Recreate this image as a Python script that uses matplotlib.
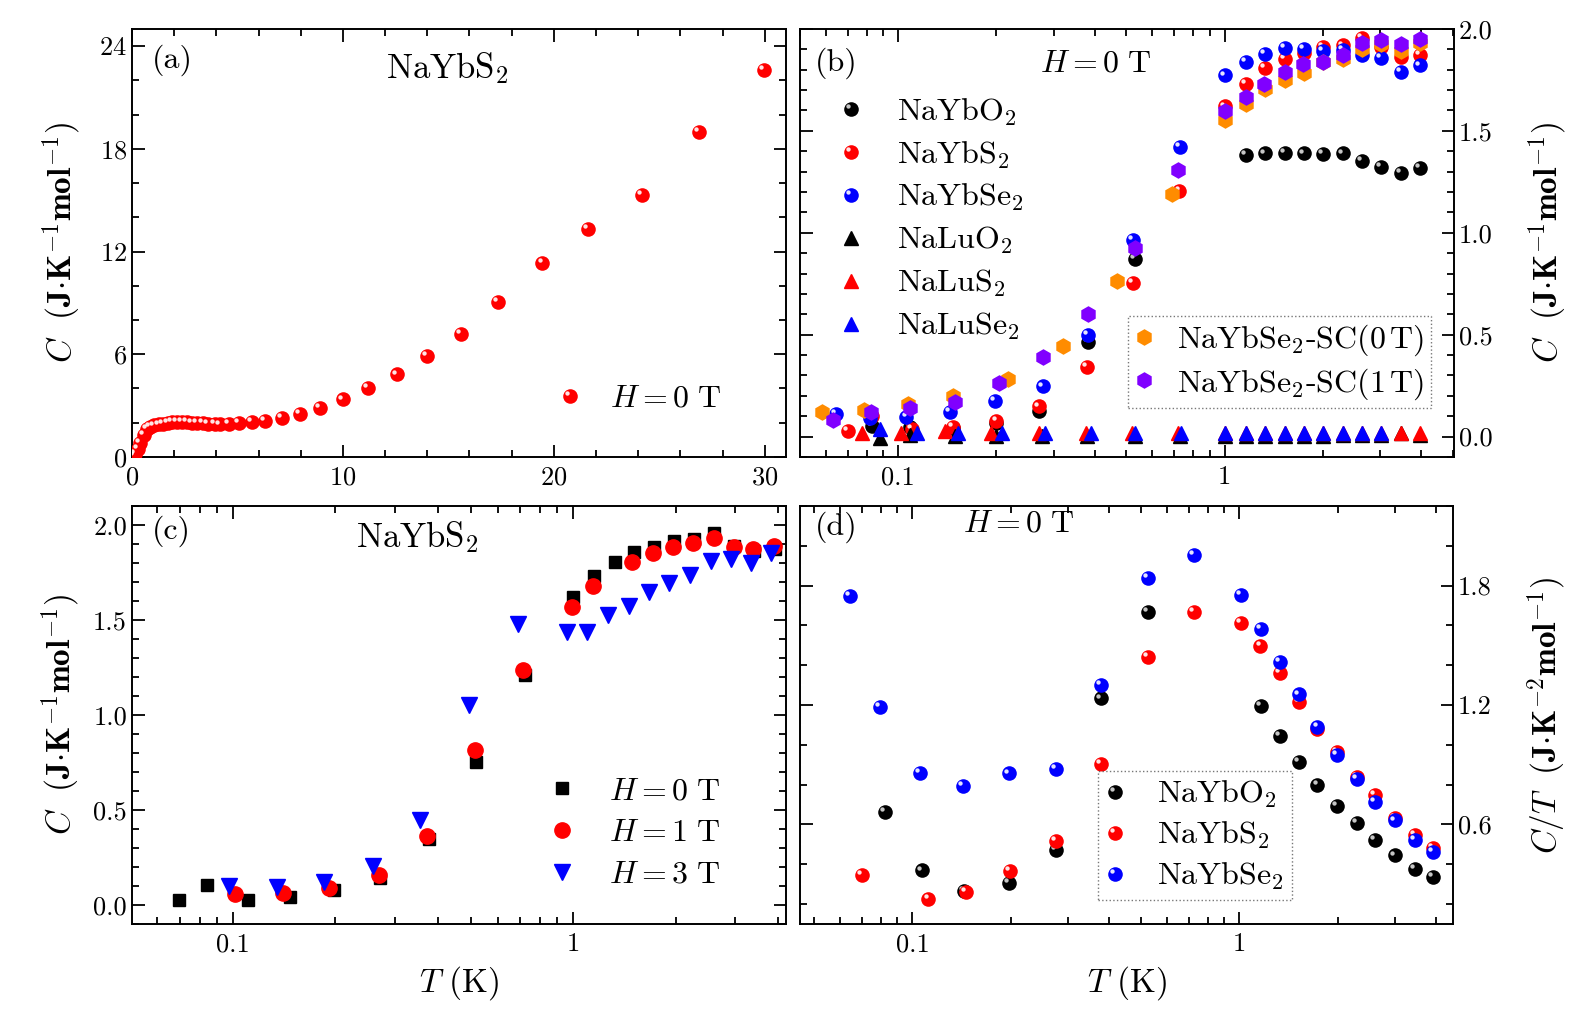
import numpy as np
import matplotlib
matplotlib.use('Agg')
import matplotlib.pyplot as plt
from matplotlib import ticker, transforms
from matplotlib.lines import Line2D
from matplotlib.legend_handler import HandlerBase

plt.rcParams['font.family'] = 'cmr10'
plt.rcParams['mathtext.fontset'] = 'cm'
plt.rcParams['axes.unicode_minus'] = False
plt.rcParams['axes.formatter.use_mathtext'] = True

# ---------------- data ----------------
# (a) NaYbS2, H = 0 T, linear T
Ta = [0.08, 0.16, 0.28, 0.39, 0.55, 0.71, 0.87, 1.06, 1.26, 1.47, 1.69, 1.90, 2.13, 2.37,
      2.61, 2.84, 3.10, 3.35, 3.60, 3.95, 4.19, 4.58, 5.09, 5.69, 6.30, 7.12, 7.95, 8.90,
      10.0, 11.2, 12.56, 13.98, 15.6, 17.36, 19.46, 21.6, 24.16, 26.9, 29.97]
Ca = [0.05, 0.19, 0.49, 0.83, 1.30, 1.61, 1.75, 1.84, 1.90, 1.94, 1.98, 2.02, 2.04, 2.04,
      2.02, 1.98, 1.96, 1.96, 1.94, 1.94, 1.90, 1.94, 1.98, 2.04, 2.12, 2.27, 2.50, 2.85,
      3.36, 4.02, 4.82, 5.92, 7.20, 9.03, 11.34, 13.34, 15.30, 18.97, 22.58]

# (b) H = 0 T, all compounds
Tb_O2 = [0.083, 0.109, 0.147, 0.20, 0.27, 0.382, 0.53, 1.165, 1.328, 1.531, 1.752, 1.998,
         2.30, 2.634, 3.013, 3.459, 3.96]
Cb_O2 = [0.05, 0.045, 0.04, 0.065, 0.127, 0.464, 0.871, 1.384, 1.389, 1.393, 1.389, 1.386,
         1.389, 1.352, 1.324, 1.292, 1.316]
Tb_S2 = [0.0702, 0.083, 0.110, 0.147, 0.20, 0.27, 0.378, 0.524, 0.727, 1.0, 1.16, 1.33,
         1.53, 1.75, 2.0, 2.30, 2.63, 3.01, 3.46, 3.96]
Cb_S2 = [0.026, 0.10, 0.037, 0.046, 0.078, 0.148, 0.342, 0.754, 1.207, 1.62, 1.731, 1.808,
         1.853, 1.881, 1.910, 1.919, 1.956, 1.910, 1.862, 1.873]
Tb_Se2 = [0.0646, 0.082, 0.106, 0.144, 0.198, 0.277, 0.381, 0.524, 0.73, 1.0, 1.16, 1.33,
          1.53, 1.75, 2.0, 2.30, 2.63, 3.01, 3.46, 3.96]
Cb_Se2 = [0.111, 0.09, 0.098, 0.119, 0.173, 0.246, 0.498, 0.966, 1.419, 1.772, 1.837, 1.878,
          1.906, 1.902, 1.894, 1.897, 1.873, 1.857, 1.79, 1.821]
Tb_Lu_O2 = [0.088, 0.109, 0.149, 0.20, 0.276, 0.38, 0.53, 0.73, 1.0, 1.16, 1.33, 1.53, 1.75,
            2.0, 2.3, 2.63, 3.01, 3.46, 3.96]
Cb_Lu_O2 = [-0.005, 0.01, 0.005, 0.005, 0.005, 0.005, 0.005, 0.005, 0.005, 0.005, 0.005,
            0.005, 0.005, 0.005, 0.01, 0.01, 0.01, 0.016, 0.01]
Tb_Lu_S2 = [0.0772, 0.102, 0.139, 0.192, 0.27, 0.376, 0.52, 0.72, 1.0, 1.16, 1.33, 1.53,
            1.75, 2.0, 2.3, 2.63, 3.01, 3.46, 3.96]
Cb_Lu_S2 = [0.02, 0.02, 0.026, 0.02, 0.02, 0.02, 0.02, 0.02, 0.02, 0.02, 0.02, 0.02, 0.02,
            0.02, 0.02, 0.02, 0.02, 0.02, 0.02]
Tb_Lu_Se2 = [0.088, 0.114, 0.152, 0.208, 0.282, 0.39, 0.533, 0.733, 1.0, 1.16, 1.33, 1.53,
             1.75, 2.0, 2.3, 2.63, 3.01]
Cb_Lu_Se2 = [0.037, 0.016, 0.018, 0.016, 0.016, 0.016, 0.016, 0.016, 0.016, 0.016, 0.016,
             0.016, 0.016, 0.016, 0.016, 0.016, 0.016]
Tb_SC0 = [0.0585, 0.0786, 0.107, 0.147, 0.2175, 0.32, 0.468, 0.689, 1.0, 1.16, 1.33, 1.53,
          1.75, 2.0, 2.30, 2.63, 3.01, 3.46, 3.96]
Cb_SC0 = [0.119, 0.130, 0.160, 0.200, 0.282, 0.445, 0.765, 1.189, 1.555, 1.634, 1.707, 1.751,
          1.783, 1.837, 1.853, 1.902, 1.927, 1.894, 1.932]
Tb_SC1 = [0.063, 0.0823, 0.109, 0.149, 0.203, 0.277, 0.382, 0.53, 0.72, 1.0, 1.16, 1.32,
          1.53, 1.74, 2.0, 2.3, 2.63, 3.01, 3.46, 3.96]
Cb_SC1 = [0.083, 0.119, 0.138, 0.168, 0.261, 0.391, 0.603, 0.925, 1.308, 1.596, 1.666, 1.731,
          1.788, 1.829, 1.837, 1.870, 1.930, 1.948, 1.927, 1.951]

# (c) NaYbS2 in fields
Tc_0 = [0.0698, 0.0838, 0.111, 0.147, 0.1985, 0.271, 0.377, 0.52, 0.722, 1.0, 1.149, 1.324,
        1.51, 1.734, 1.985, 2.273, 2.6, 2.977, 3.406, 3.913]
Cc_0 = [0.0245, 0.103, 0.0245, 0.042, 0.077, 0.142, 0.345, 0.755, 1.21, 1.623, 1.729, 1.807,
        1.86, 1.886, 1.916, 1.925, 1.96, 1.89, 1.863, 1.872]
Tc_1 = [0.1014, 0.1404, 0.1923, 0.2684, 0.3715, 0.5145, 0.712, 0.993, 1.144, 1.494, 1.717,
        1.971, 2.256, 2.592, 2.966, 3.382, 3.886]
Cc_1 = [0.0595, 0.063, 0.089, 0.156, 0.361, 0.818, 1.236, 1.566, 1.680, 1.807, 1.855,
        1.886, 1.907, 1.93, 1.886, 1.872, 1.89]
Tc_3 = [0.0976, 0.1346, 0.1858, 0.2592, 0.3563, 0.4934, 0.6877, 0.9627, 1.102, 1.27, 1.458,
        1.675, 1.918, 2.203, 2.538, 2.915, 3.325, 3.819]
Cc_3 = [0.10, 0.093, 0.121, 0.205, 0.445, 1.053, 1.478, 1.438, 1.438, 1.525, 1.575, 1.648,
        1.694, 1.737, 1.811, 1.823, 1.802, 1.855]

# (d) C/T at H = 0 T
Td_O2 = [0.0823, 0.107, 0.1436, 0.1976, 0.274, 0.378, 0.524, 1.165, 1.328, 1.52, 1.733,
         1.99, 2.286, 2.606, 3.0, 3.438, 3.92]
CTd_O2 = [0.662, 0.369, 0.265, 0.307, 0.471, 1.233, 1.666, 1.194, 1.0435, 0.915, 0.7975,
          0.695, 0.608, 0.52, 0.444, 0.377, 0.337]
Td_S2 = [0.0702, 0.112, 0.1462, 0.199, 0.274, 0.377, 0.524, 0.727, 1.01, 1.16, 1.328, 1.52,
         1.733, 1.99, 2.286, 2.606, 2.983, 3.438, 3.92]
CTd_S2 = [0.344, 0.227, 0.260, 0.366, 0.516, 0.906, 1.442, 1.668, 1.6126, 1.495, 1.361,
          1.216, 1.082, 0.965, 0.839, 0.746, 0.633, 0.546, 0.483]
Td_Se2 = [0.0646, 0.0794, 0.1054, 0.143, 0.197, 0.274, 0.377, 0.524, 0.727, 1.01, 1.165,
          1.328, 1.52, 1.733, 1.99, 2.286, 2.606, 2.983, 3.438, 3.92]
CTd_Se2 = [1.7465, 1.1908, 0.859, 0.7925, 0.856, 0.8795, 1.303, 1.838, 1.952, 1.755, 1.584,
           1.415, 1.253, 1.09, 0.948, 0.829, 0.714, 0.62, 0.521, 0.463]

BLACK, RED, BLUE = '#000000', '#ff0000', '#0000ff'
ORANGE, PURPLE = '#ff8c00', '#8000ff'

FS_TICK = 19
FS_TXT = 23
FS_LAB = 24
MS_BALL = 10.5

fig = plt.figure(figsize=(15.8, 10.13), dpi=100)
axa = fig.add_axes([0.0835, 0.5489, 0.4139, 0.4225])
axb = fig.add_axes([0.5063, 0.5489, 0.4139, 0.4225])
axc = fig.add_axes([0.0835, 0.0879, 0.4139, 0.4126])
axd = fig.add_axes([0.5063, 0.0879, 0.4133, 0.4126])


def balls(ax, x, y, color, z, ms=MS_BALL, hl='white'):
    ax.plot(x, y, ls='none', marker='o', ms=ms, mfc=color, mec='none', zorder=z)
    d = ms * 0.2
    tr = transforms.offset_copy(ax.transData, fig=fig, x=-d, y=d, units='points')
    ax.plot(x, y, ls='none', marker='o', ms=ms * 0.3, mfc=hl, mec='none', alpha=0.9,
            transform=tr, zorder=z + 0.5)


class Ball:
    def __init__(self, color, hl='white', ms=MS_BALL):
        self.color, self.hl, self.ms = color, hl, ms


class BallHandler(HandlerBase):
    def create_artists(self, legend, h, xdescent, ydescent, width, height, fontsize, trans):
        cx = 0.5 * width - xdescent
        cy = 0.5 * height - ydescent
        d = h.ms * 0.2
        a = Line2D([cx], [cy], ls='none', marker='o', ms=h.ms, mfc=h.color, mec='none',
                   transform=trans)
        b = Line2D([cx - d], [cy + d], ls='none', marker='o', ms=h.ms * 0.3, mfc=h.hl,
                   mec='none', alpha=0.9, transform=trans)
        return [a, b]


HMAP = {Ball: BallHandler()}


def style(ax, log=False):
    for s in ax.spines.values():
        s.set_linewidth(1.4)
    ax.tick_params(which='both', direction='in', top=True, right=True, left=True, bottom=True,
                   labelsize=FS_TICK, width=1.3)
    ax.tick_params(which='major', length=9)
    ax.tick_params(which='minor', length=5)
    ax.tick_params(axis='x', pad=6)
    if log:
        ax.set_xscale('log')
        ax.xaxis.set_major_locator(ticker.FixedLocator([0.1, 1]))
        ax.xaxis.set_major_formatter(ticker.FuncFormatter(lambda v, p: f'{v:g}'))
        ax.xaxis.set_minor_locator(ticker.LogLocator(base=10, subs=np.arange(2, 10), numticks=20))
        ax.xaxis.set_minor_formatter(ticker.NullFormatter())


ylab_C = r'$C\ \ (\mathbf{J{\cdot}K}^{-1}\mathbf{mol}^{-1})$'
xlab_T = r'$T\ (\mathrm{K})$'

# ---------- (a) ----------
style(axa)
balls(axa, Ta, Ca, RED, 3)
axa.set_xlim(0, 31)
axa.set_ylim(0, 25)
axa.xaxis.set_major_locator(ticker.MultipleLocator(10))
axa.xaxis.set_minor_locator(ticker.MultipleLocator(2))
axa.yaxis.set_major_locator(ticker.MultipleLocator(6))
axa.yaxis.set_minor_locator(ticker.MultipleLocator(2))
axa.set_ylabel(ylab_C, fontsize=FS_LAB, labelpad=12)
axa.text(0.03, 0.926, '(a)', transform=axa.transAxes, fontsize=FS_TXT, va='center')
axa.text(0.482, 0.908, r'$\mathrm{NaYbS}_2$', transform=axa.transAxes, fontsize=FS_TXT + 2,
         ha='center', va='center')
axa.legend([Ball(RED)], [r'$H = 0\ \mathrm{T}$'], handler_map=HMAP,
           loc='center left', bbox_to_anchor=(0.645, 0.136), frameon=False, fontsize=FS_TXT,
           handlelength=1.0, handletextpad=0.76, borderpad=0, borderaxespad=0)

# ---------- (b) ----------
style(axb, log=True)
balls(axb, Tb_O2, Cb_O2, BLACK, 3, hl='#dddddd')
balls(axb, Tb_S2, Cb_S2, RED, 4)
balls(axb, Tb_Se2, Cb_Se2, BLUE, 5)
axb.plot(Tb_Lu_O2, Cb_Lu_O2, ls='none', marker='^', ms=10, color=BLACK, zorder=6)
axb.plot(Tb_Lu_S2, Cb_Lu_S2, ls='none', marker='^', ms=10, color=RED, zorder=6.2)
axb.plot(Tb_Lu_Se2, Cb_Lu_Se2, ls='none', marker='^', ms=10, color=BLUE, zorder=6.4)
axb.plot(Tb_SC0, Cb_SC0, ls='none', marker='h', ms=12, color=ORANGE, mec='none', zorder=7)
axb.plot(Tb_SC1, Cb_SC1, ls='none', marker='h', ms=12, color=PURPLE, mec='none', zorder=8)
axb.set_xlim(0.05, 5.04)
axb.set_ylim(-0.1, 2.0)
axb.yaxis.set_major_locator(ticker.MultipleLocator(0.5))
axb.yaxis.set_minor_locator(ticker.MultipleLocator(0.1))
axb.yaxis.set_major_formatter(ticker.FormatStrFormatter('%.1f'))
axb.yaxis.tick_right()
axb.tick_params(axis='y', which='both', left=True, right=True)
axb.yaxis.set_label_position('right')
axb.set_ylabel(ylab_C, fontsize=FS_LAB, labelpad=24)
axb.text(0.023, 0.919, '(b)', transform=axb.transAxes, fontsize=FS_TXT, va='center')
axb.text(0.453, 0.919, r'$H = 0\ \mathrm{T}$', transform=axb.transAxes, fontsize=FS_TXT,
         ha='center', va='center')
hb1 = [Ball(BLACK, hl='#dddddd'), Ball(RED), Ball(BLUE),
       Line2D([], [], ls='none', marker='^', ms=10, color=BLACK),
       Line2D([], [], ls='none', marker='^', ms=10, color=RED),
       Line2D([], [], ls='none', marker='^', ms=10, color=BLUE)]
lb1 = [r'$\mathrm{NaYbO}_2$', r'$\mathrm{NaYbS}_2$', r'$\mathrm{NaYbSe}_2$',
       r'$\mathrm{NaLuO}_2$', r'$\mathrm{NaLuS}_2$', r'$\mathrm{NaLuSe}_2$']
legb1 = axb.legend(hb1, lb1, handler_map=HMAP, loc='upper left',
                   bbox_to_anchor=(0.0535, 0.843), frameon=False, fontsize=FS_TXT,
                   handlelength=1.0, handletextpad=0.93, borderpad=0, borderaxespad=0,
                   labelspacing=0.36)
axb.add_artist(legb1)
hb2 = [Line2D([], [], ls='none', marker='h', ms=12, color=ORANGE, mec='none'),
       Line2D([], [], ls='none', marker='h', ms=12, color=PURPLE, mec='none')]
lb2 = [r'NaYbSe$_2$-SC(0$\,$T)', r'NaYbSe$_2$-SC(1$\,$T)']
legb2 = axb.legend(hb2, lb2, loc='upper left', bbox_to_anchor=(0.502, 0.329), frameon=True,
                   fancybox=False, edgecolor='#555555', fontsize=FS_TXT, handlelength=0.6,
                   handletextpad=0.74, borderpad=0.2, borderaxespad=0, labelspacing=0.25)
legb2.get_frame().set_linestyle(':')
legb2.get_frame().set_linewidth(1.0)

# ---------- (c) ----------
style(axc, log=True)
axc.plot(Tc_0, Cc_0, ls='none', marker='s', ms=9, color=BLACK, zorder=3)
axc.plot(Tc_1, Cc_1, ls='none', marker='o', ms=11, color=RED, zorder=4)
axc.plot(Tc_3, Cc_3, ls='none', marker='v', ms=11, color=BLUE, zorder=5)
axc.set_xlim(0.0506, 4.22)
axc.set_ylim(-0.1, 2.1)
axc.yaxis.set_major_locator(ticker.MultipleLocator(0.5))
axc.yaxis.set_minor_locator(ticker.MultipleLocator(0.1))
axc.yaxis.set_major_formatter(ticker.FormatStrFormatter('%.1f'))
axc.set_ylabel(ylab_C, fontsize=FS_LAB, labelpad=8)
axc.set_xlabel(xlab_T, fontsize=FS_LAB, labelpad=6)
axc.text(0.03, 0.94, '(c)', transform=axc.transAxes, fontsize=FS_TXT, va='center')
axc.text(0.437, 0.926, r'$\mathrm{NaYbS}_2$', transform=axc.transAxes, fontsize=FS_TXT + 2,
         ha='center', va='center')
hc = [Line2D([], [], ls='none', marker='s', ms=9, color=BLACK),
      Line2D([], [], ls='none', marker='o', ms=11, color=RED),
      Line2D([], [], ls='none', marker='v', ms=11, color=BLUE)]
lc = [r'$H = 0\ \mathrm{T}$', r'$H = 1\ \mathrm{T}$', r'$H = 3\ \mathrm{T}$']
axc.legend(hc, lc, loc='upper left', bbox_to_anchor=(0.633, 0.352), frameon=False,
           fontsize=FS_TXT, handlelength=1.0, handletextpad=0.97, borderpad=0,
           borderaxespad=0, labelspacing=0.42)

# ---------- (d) ----------
style(axd, log=True)
balls(axd, Td_O2, CTd_O2, BLACK, 3, hl='#dddddd')
balls(axd, Td_S2, CTd_S2, RED, 4)
balls(axd, Td_Se2, CTd_Se2, BLUE, 5)
axd.set_xlim(0.0453, 4.5)
axd.set_ylim(0.1, 2.2)
axd.yaxis.set_major_locator(ticker.MultipleLocator(0.6))
axd.yaxis.set_minor_locator(ticker.MultipleLocator(0.2))
axd.yaxis.set_major_formatter(ticker.FormatStrFormatter('%.1f'))
axd.yaxis.tick_right()
axd.tick_params(axis='y', which='both', left=True, right=True)
axd.yaxis.set_label_position('right')
axd.set_ylabel(r'$C/T\ \ (\mathbf{J{\cdot}K}^{-2}\mathbf{mol}^{-1})$', fontsize=FS_LAB,
               labelpad=24)
axd.set_xlabel(xlab_T, fontsize=FS_LAB, labelpad=6)
axd.text(0.023, 0.95, '(d)', transform=axd.transAxes, fontsize=FS_TXT, va='center')
axd.text(0.336, 0.957, r'$H = 0\ \mathrm{T}$', transform=axd.transAxes, fontsize=FS_TXT,
         ha='center', va='center')
hd = [Ball(BLACK, hl='#dddddd'), Ball(RED), Ball(BLUE)]
ld = [r'$\mathrm{NaYbO}_2$', r'$\mathrm{NaYbS}_2$', r'$\mathrm{NaYbSe}_2$']
legd = axd.legend(hd, ld, handler_map=HMAP, loc='upper left',
                  bbox_to_anchor=(0.456, 0.366), frameon=True, fancybox=False,
                  edgecolor='#555555', fontsize=FS_TXT, handlelength=0.6, handletextpad=1.0,
                  borderpad=0.25, borderaxespad=0, labelspacing=0.3)
legd.get_frame().set_linestyle(':')
legd.get_frame().set_linewidth(1.0)

fig.savefig('out.png', dpi=100)
